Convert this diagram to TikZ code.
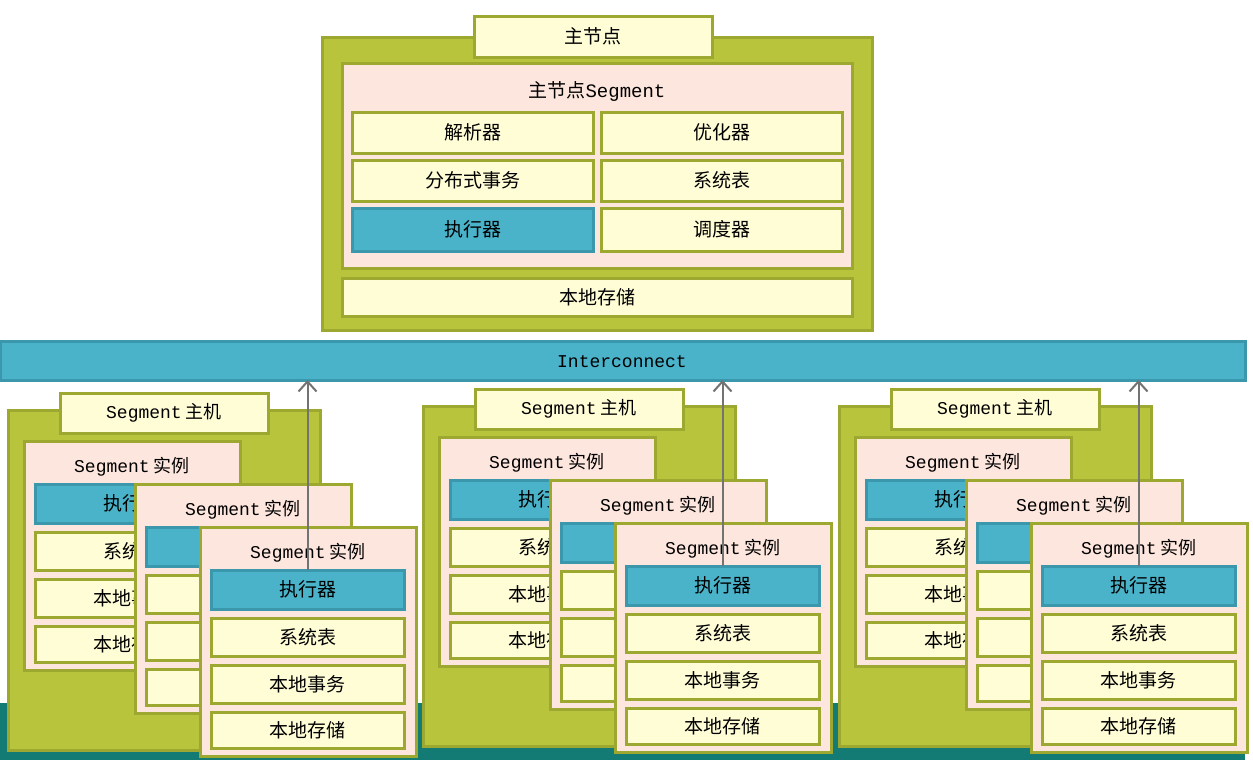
\documentclass[tikz,border=0pt]{standalone}
\usepackage{fontspec}
\setmainfont{Noto Sans CJK SC}
\newfontfamily\segmono{Liberation Mono}
\usetikzlibrary{arrows.meta}
\definecolor{gfill}{HTML}{B8C43B}
\definecolor{gline}{HTML}{9CA830}
\definecolor{cfill}{HTML}{FFFDD6}
\definecolor{pfill}{HTML}{FDE6DE}
\definecolor{bfill}{HTML}{4AB3C9}
\definecolor{bline}{HTML}{3A97AC}
\definecolor{teal}{HTML}{147A74}
\tikzset{
 box/.style={draw=gline,line width=3pt,inner sep=0pt,outer sep=0pt,font=\fontsize{19}{19}\selectfont},
 cell/.style={box,fill=cfill},
 blue/.style={box,fill=bfill,draw=bline},
 green/.style={box,fill=gfill},
 pink/.style={box,fill=pfill},
 mono/.style={font=\fontsize{18}{18}\selectfont},
 arr/.style={draw=gray!90!black,line width=2pt,-{Straight Barb[length=10pt,width=18pt,line width=2pt]}}
}
% \bx{name}{style}{x1}{y1}{x2}{y2}{text}
\newcommand\bx[7]{\node[#2,minimum width={(#5-#3)*1pt},minimum height={(#6-#4)*1pt}] (#1) at ({(#3+#5)/2},{(#4+#6)/2}) {#7};}
\newcommand\inst[3]{% suffix, dx, dy
 \begin{scope}[shift={(#2,#3)}]
 \bx{in#1}{pink}{0}{0}{216}{229}{}
 \node[mono] (t#1) at (108,26) {{\segmono Segment} 实例};
 \bx{ex#1}{blue}{11}{43}{204}{82}{执行器}
 \bx{st#1}{cell}{11}{91}{204}{129}{系统表}
 \bx{lt#1}{cell}{11}{138}{204}{176}{本地事务}
 \bx{ls#1}{cell}{11}{185}{204}{221}{本地存储}
 \end{scope}}
\newcommand\host[3]{%
 \begin{scope}[shift={(#2,#3)}]
 \bx{h#1}{green}{8}{410}{320}{750}{}
 \bx{tab#1}{cell}{60}{393}{268}{433}{}
 \node[mono] (tt#1) at (164,413) {{\segmono Segment} 主机};
 \end{scope}
 \inst{#1a}{#2+24}{#3+441}
 \inst{#1b}{#2+135}{#3+484}
 \inst{#1c}{#2+200}{#3+527}
 \draw[arr] (ex#1c.north) -- (ex#1c.north |- bar.south);}
\begin{document}
\begin{tikzpicture}[x=1pt,y=-1pt]
\useasboundingbox (0,0) rectangle (1253,766);
\fill[white] (0,0) rectangle (1253,766);
% master
\bx{master}{green}{322}{37}{872}{330}{}
\bx{mtab}{cell}{474}{16}{712}{57}{主节点}
\bx{mseg}{pink}{342}{63}{852}{268}{}
\node[font=\fontsize{19}{19}\selectfont] (mtitle) at (597,91) {主节点{\segmono Segment}};
\bx{jx}{cell}{352}{112}{593}{153}{解析器}
\bx{yh}{cell}{601}{112}{842}{153}{优化器}
\bx{fb}{cell}{352}{160}{593}{201}{分布式事务}
\bx{xt}{cell}{601}{160}{842}{201}{系统表}
\bx{zx}{blue}{352}{208}{593}{251}{执行器}
\bx{dd}{cell}{601}{208}{842}{251}{调度器}
\bx{mls}{cell}{342}{278}{852}{316}{本地存储}
% interconnect
\bx{bar}{blue}{0}{341}{1245}{380}{}
\node[mono] (bart) at (622,362) {\segmono Interconnect};
% teal band
\fill[teal] (0,703) rectangle (1245,760);
\host{1}{0}{0}
\host{2}{415}{-4}
\host{3}{831}{-4}
\end{tikzpicture}
\end{document}
